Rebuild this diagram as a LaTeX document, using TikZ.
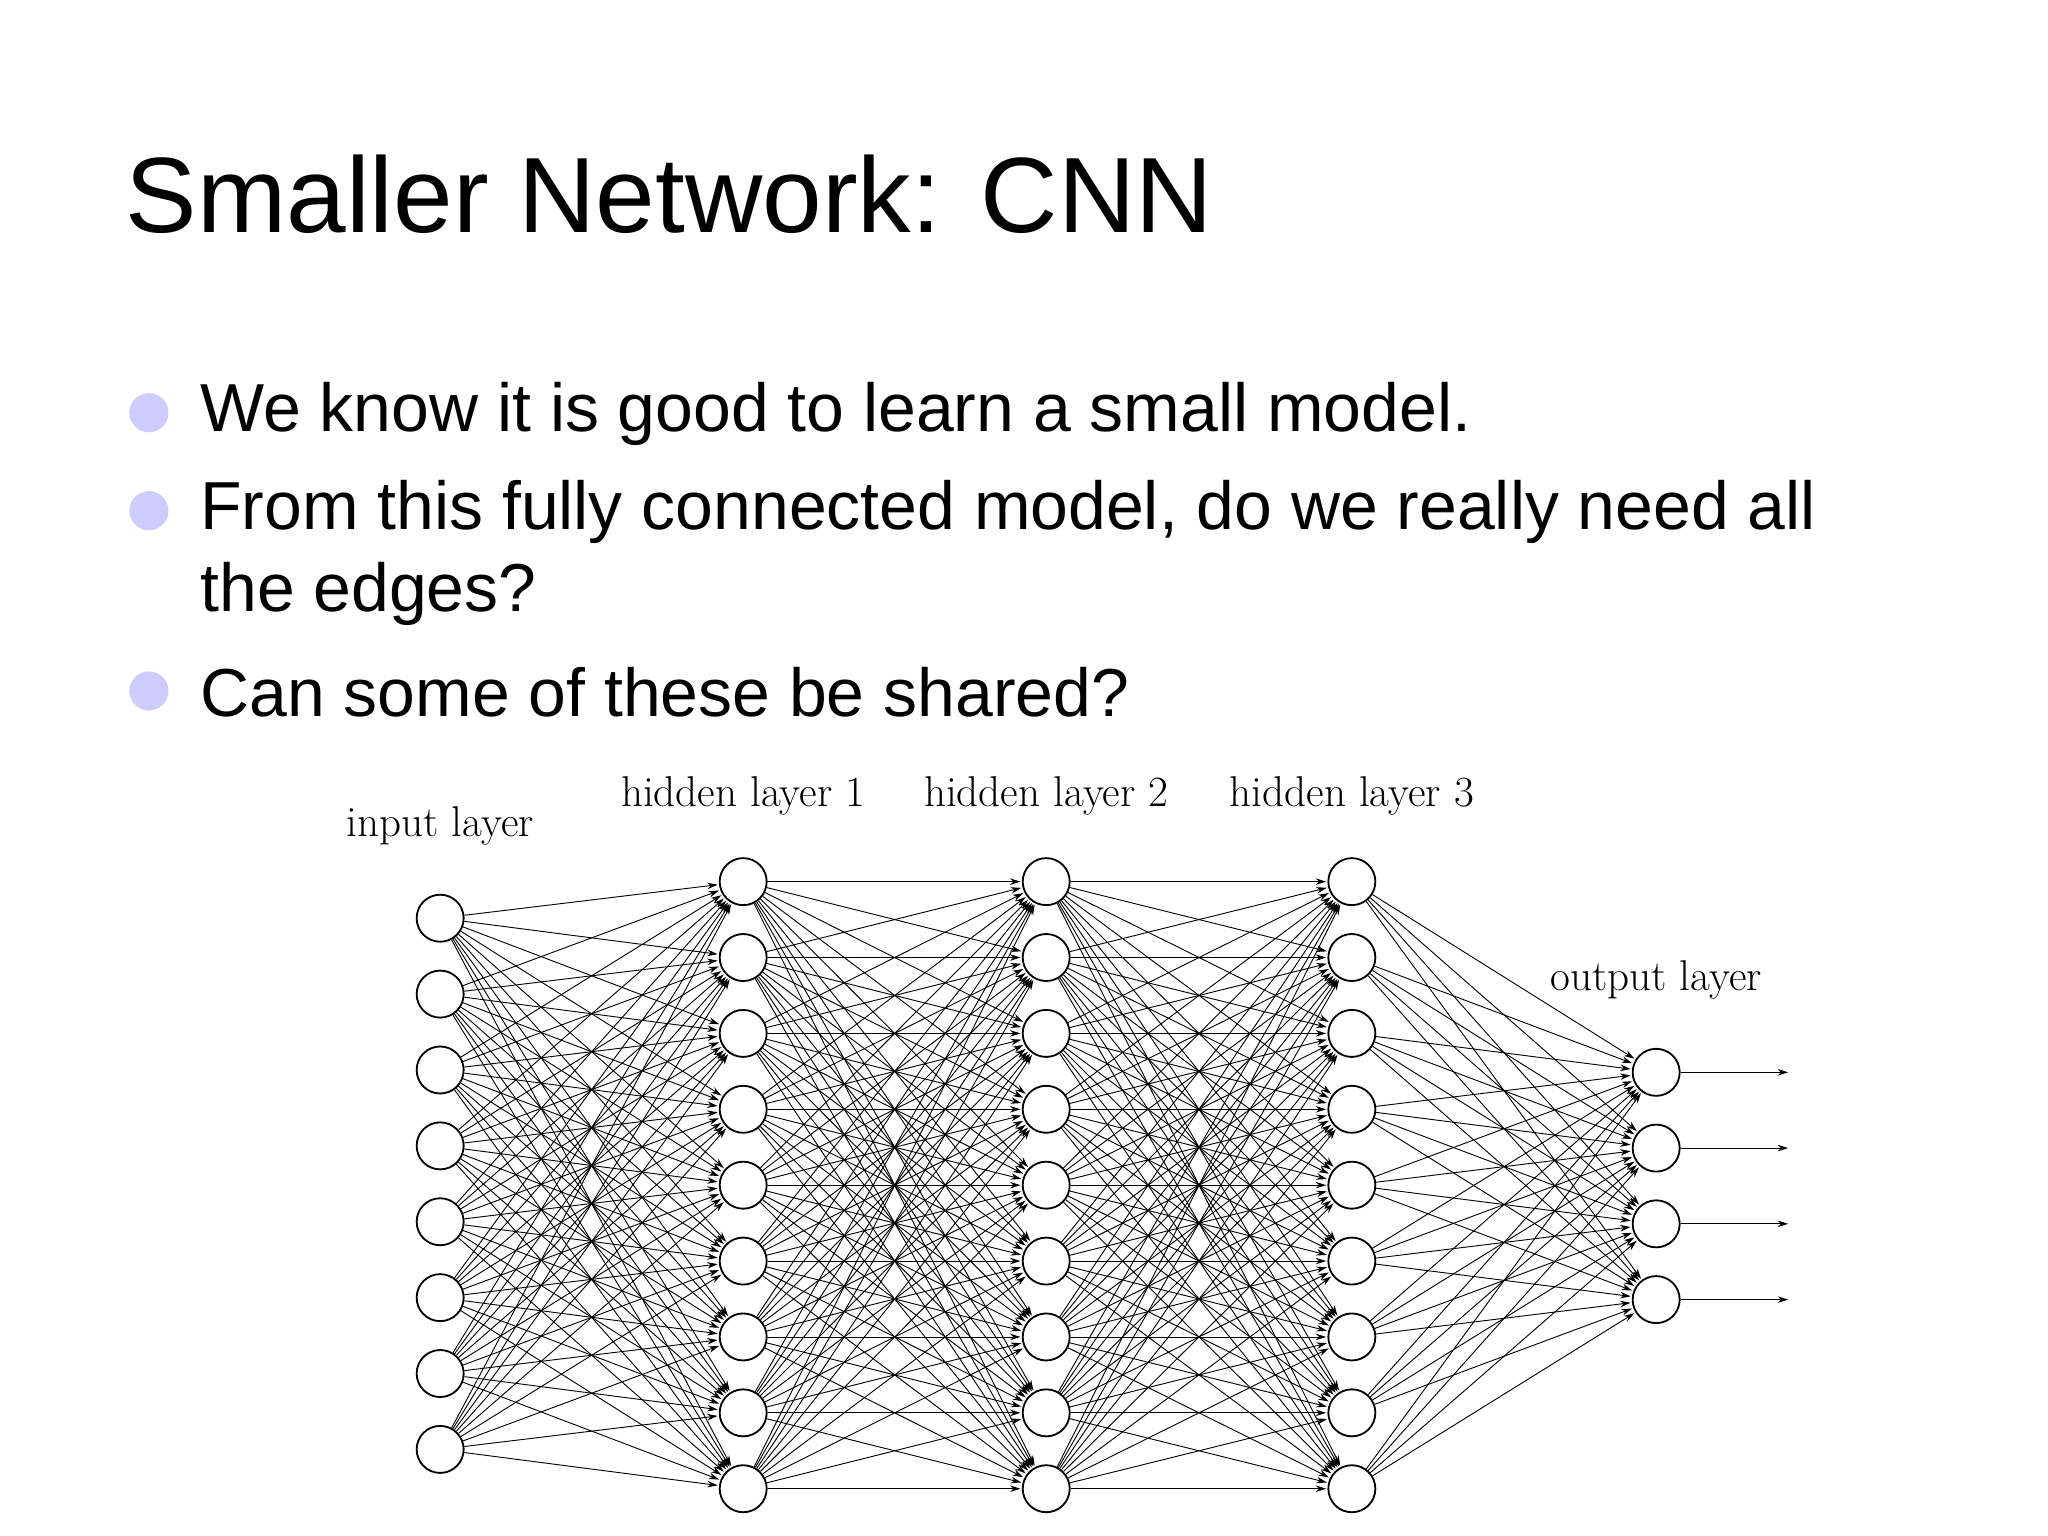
\documentclass[tikz,border=0pt]{standalone}
\usepackage{fontspec}
\setmainfont{Liberation Sans}
\newfontfamily\lm{Latin Modern Roman}
\usetikzlibrary{arrows.meta,calc}
\begin{document}
\begin{tikzpicture}[x=0.5pt,y=-0.5pt,
  neuron/.style={circle,draw,line width=0.7pt,minimum size=18pt,inner sep=0pt,fill=white},
  edge/.style={-{Stealth[length=4pt,width=2.5pt]},line width=0.35pt,shorten >=0.5pt},
  lab/.style={font=\lm\fontsize{16.5}{18}\selectfont},
  bullet/.style={circle,fill={rgb,255:red,204;green,204;blue,255},minimum size=15pt,inner sep=0pt},
  txt/.style={anchor=west,font=\fontsize{26}{30}\selectfont,inner sep=0pt}]
\useasboundingbox (0,0) rectangle (1568,1176);
\node[anchor=base west,font=\fontsize{41}{48}\selectfont,inner sep=0pt] (title) at (96,178) {Smaller Network: CNN};
\node[bullet] (b1) at (114,316) {};
\node[txt] (t1) at (153,317) {We know it is good to learn a small model.};
\node[bullet] (b2) at (114,391) {};
\node[txt] (t2) at (153,392) {From this fully connected model, do we really need all};
\node[txt] (t3) at (153,455) {the edges?};
\node[bullet] (b3) at (114,529) {};
\node[txt] (t4) at (153,530) {Can some of these be shared?};
\foreach \i in {1,...,8} \node[neuron] (I\i) at (337,{703+58.1*(\i-1)}) {};
\foreach \L/\x in {A/569,B/801,C/1035}
  \foreach \i in {1,...,9} \node[neuron] (\L\i) at (\x,{675+58.1*(\i-1)}) {};
\foreach \i in {1,...,4} \node[neuron] (O\i) at (1268,{821+58*(\i-1)}) {};
\foreach \i in {1,...,8} \foreach \j in {1,...,9} \draw[edge] (I\i) -- (A\j);
\foreach \i in {1,...,9} \foreach \j in {1,...,9} \draw[edge] (A\i) -- (B\j);
\foreach \i in {1,...,9} \foreach \j in {1,...,9} \draw[edge] (B\i) -- (C\j);
\foreach \i in {1,...,9} \foreach \j in {1,...,4} \draw[edge] (C\i) -- (O\j);
\foreach \i in {1,...,4} \coordinate (E\i) at ($(O\i)+(102,0)$);
\foreach \i in {1,...,4} \draw[edge] (O\i) -- (E\i);
\node[lab] (li) at (337,632) {input layer};
\node[lab] (l1) at (569,609) {hidden layer 1};
\node[lab] (l2) at (801,609) {hidden layer 2};
\node[lab] (l3) at (1035,609) {hidden layer 3};
\node[lab] (lo) at (1268,750) {output layer};
\end{tikzpicture}
\end{document}
